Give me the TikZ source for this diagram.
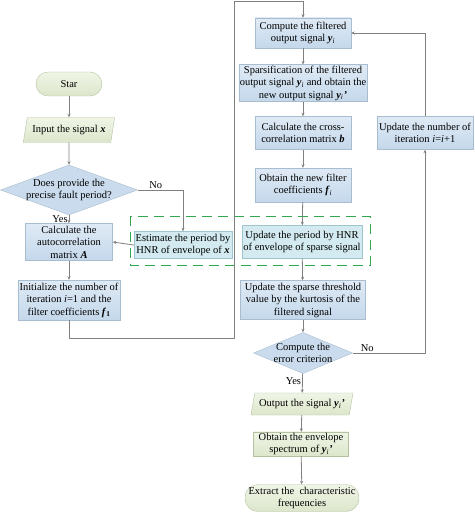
\documentclass[tikz,border=0pt]{standalone}
\usepackage{fontspec}
\setmainfont{Liberation Serif}
\usetikzlibrary{shapes.geometric,arrows.meta}
\definecolor{bluetop}{HTML}{DFEAF5}
\definecolor{bluebot}{HTML}{C4D8EB}
\definecolor{blueline}{HTML}{A9BDD0}
\definecolor{greentop}{HTML}{F0F5E6}
\definecolor{greenbot}{HTML}{DCE6CB}
\definecolor{greenline}{HTML}{B4C2A2}
\definecolor{cyanfill}{HTML}{D3EBF0}
\definecolor{cyanline}{HTML}{9EC6CF}
\definecolor{diafill}{HTML}{C9DBEC}
\definecolor{conn}{HTML}{808080}
\definecolor{dashgreen}{HTML}{2FA84F}
\newcommand{\yi}{\textbf{\textit{y}}\textsubscript{\textit{i}}}
\newcommand{\yip}{\textbf{\textit{y}}\textsubscript{\textit{i}}\textbf{\textit{'}}}
\begin{document}
\begin{tikzpicture}[x=1pt,y=-1pt,
  font=\fontsize{10.5}{12.5}\selectfont,
  bbox/.style={draw=blueline, top color=bluetop, bottom color=bluebot, align=center, inner sep=1pt},
  cbox/.style={draw=cyanline, fill=cyanfill, align=center, inner sep=1pt},
  gbox/.style={draw=greenline, top color=greentop, bottom color=greenbot, align=center, inner sep=1pt},
  term/.style={gbox, rounded corners=12pt},
  para/.style={gbox, trapezium, trapezium left angle=70, trapezium right angle=110, trapezium stretches=true, inner sep=0pt},
  dia/.style={diamond, draw=blueline, fill=diafill, inner sep=0pt},
  dtext/.style={align=center, inner sep=0pt},
  arr/.style={draw=conn, line width=0.8pt, -{Stealth[length=3.5pt,width=3pt]}},
  ln/.style={draw=conn, line width=0.8pt},
  lab/.style={inner sep=1pt}]
\useasboundingbox (0,0) rectangle (474,513);

% left column
\node[term, minimum width=66pt, minimum height=24pt] (star) at (69,84) {Star};
\node[para, minimum width=92pt, minimum height=25pt] (input) at (69,130) {Input the signal \textbf{\textit{x}}};
\node[dia, minimum width=137pt, minimum height=50pt] (d1) at (69,190) {};
\node[dtext] (d1t) at (d1.center) {Does provide the\\precise fault period?};
\node[bbox, minimum width=87pt, minimum height=37pt] (calc) at (69,242) {Calculate the\\autocorrelation\\matrix \textbf{\textit{A}}};
\node[cbox, minimum width=98pt, minimum height=27pt] (est) at (183,245) {Estimate the period by\\HNR of envelope of \textbf{\textit{x}}};
\node[bbox, minimum width=102pt, minimum height=40pt] (init) at (69,300) {Initialize the number of\\iteration \textit{i}=1 and the\\filter coefficients \textbf{\textit{f}}\textsubscript{\textbf{1}}};

% middle column
\node[bbox, minimum width=96pt, minimum height=30pt] (comp) at (303,33) {Compute the filtered\\output signal \yi};
\node[bbox, minimum width=125pt, minimum height=36pt] (spars) at (303,83) {Sparsification of the filtered\\output signal \yi\ and obtain the\\new output signal \yip};
\node[bbox, minimum width=96pt, minimum height=33pt] (cross) at (303,133) {Calculate the cross-\\correlation matrix \textbf{\textit{b}}};
\node[bbox, minimum width=96pt, minimum height=34pt] (filt) at (303,185) {Obtain the new filter\\coefficients \textbf{\textit{f}}\textsubscript{\textit{i}}};
\node[cbox, minimum width=120pt, minimum height=33pt] (updp) at (302,242) {Update the period by HNR\\of envelope of sparse signal};
\node[bbox, minimum width=125pt, minimum height=39pt] (thr) at (303,300) {Update the sparse threshold\\value by the kurtosis of the\\filtered signal};
\node[dia, minimum width=99pt, minimum height=41pt] (d2) at (303,353) {};
\node[dtext] (d2t) at (d2.center) {Compute the\\error criterion};
\node[para, minimum width=103pt, minimum height=22pt] (out) at (302,404) {Output the signal \yip};
\node[gbox, minimum width=95pt, minimum height=23pt] (env) at (301,444) {Obtain the envelope\\spectrum of \yip};
\node[term, rounded corners=13pt, minimum width=114pt, minimum height=27pt] (ext) at (302,498) {Extract the\ \ characteristic\\frequencies};

% right column
\node[bbox, minimum width=96pt, minimum height=33pt] (iter) at (425,133) {Update the number of\\iteration \textit{i}=\textit{i}+1};

% dashed frame
\draw[dashgreen, line width=1pt, dash pattern=on 10pt off 6pt] (130,216) rectangle (370,265);

% connectors
\draw[arr] (star) -- (input);
\draw[arr] (input) -- (d1);
\draw[arr] (d1) -- node[lab, pos=0.45, left] {Yes} (calc);
\draw[arr] (d1.east) -| node[lab, pos=0.2, above] {No} (est.north);
\draw[arr] (est.west) -- (calc.east);
\draw[arr] (calc) -- (init);
\coordinate (lbot) at (234,338);
\coordinate (ltop) at (234,1);
\draw[arr] (init.south) |- (lbot) -- (ltop) -| (comp.north);

\draw[arr] (comp) -- (spars);
\draw[arr] (spars) -- (cross);
\draw[arr] (cross) -- (filt);
\draw[arr] (filt) -- (updp);
\draw[arr] (updp) -- (thr);
\draw[arr] (thr) -- (d2);
\draw[arr] (d2) -- node[lab, pos=0.4, left] {Yes} (out);
\draw[arr] (out) -- (env);
\draw[arr] (env) -- (ext);
\draw[arr] (d2.east) -| node[lab, pos=0.1, above] {No} (iter.south);
\draw[arr] (iter.north) |- (comp.east);
\end{tikzpicture}
\end{document}
